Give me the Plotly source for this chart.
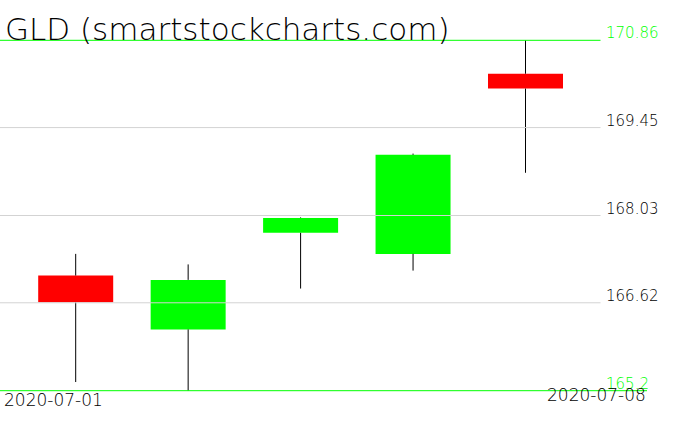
import plotly.graph_objs as go

# GLD daily candles
dates = ["2020-07-01", "2020-07-02", "2020-07-06", "2020-07-07", "2020-07-08"]
opens = [167.06, 166.19, 167.75, 167.41, 170.32]
highs = [167.41, 167.24, 168.00, 169.03, 170.86]
lows = [165.34, 165.20, 166.85, 167.14, 168.72]
closes = [166.63, 166.99, 167.99, 169.01, 170.08]

price_ticks = [165.2, 166.62, 168.03, 169.45, 170.86]
tick_labels = ["165.2", "166.62", "168.03", "169.45", "170.86"]

GREEN = "#00ff00"
RED = "#ff0000"
FONT = dict(family="DejaVu Sans", weight=200, color="black")

idx = list(range(len(dates)))

body_lo = [min(o, c) for o, c in zip(opens, closes)]
body_hi = [max(o, c) for o, c in zip(opens, closes)]
body_size = [h - l for l, h in zip(body_lo, body_hi)]
body_color = [GREEN if c >= o else RED for o, c in zip(opens, closes)]

# wicks: one segment below the body, one above (bars sit under scatter lines)
wick_x, wick_y = [], []
for i, lo, hi, bl, bh in zip(idx, lows, highs, body_lo, body_hi):
    wick_x += [i, i, None, i, i, None]
    wick_y += [lo, bl, None, bh, hi, None]

fig = go.Figure()

fig.add_trace(
    go.Bar(
        x=idx,
        y=body_size,
        base=body_lo,
        width=0.667,
        marker_color=body_color,
        marker_line_width=0,
        showlegend=False
    )
)

fig.add_trace(
    go.Scatter(
        x=wick_x,
        y=wick_y,
        mode="lines",
        line=dict(color="black", width=1),
        hoverinfo="skip",
        showlegend=False
    )
)

# horizontal price lines, drawn over the bodies
shapes = []
for k, p in enumerate(price_ticks):
    edge = k in (0, len(price_ticks) - 1)
    shapes.append(dict(
        type="line", layer="above",
        xref="paper", yref="y",
        x0=0, x1=(647 if k == 0 else 600.5) / 676,
        y0=p, y1=p,
        line=dict(color=GREEN if edge else "#d3d3d3", width=1)
    ))

annotations = []
for k, (p, lab) in enumerate(zip(price_ticks, tick_labels)):
    edge = k in (0, len(price_ticks) - 1)
    annotations.append(dict(
        text=lab, xref="paper", yref="y",
        x=604 / 676, y=p, xanchor="left", yanchor="bottom", yshift=-4,
        showarrow=False,
        font=dict(FONT, size=15, color=GREEN if edge else "black")
    ))

annotations.append(dict(
    text=dates[0], xref="paper", yref="paper",
    x=2 / 676, y=1 - 400 / 431, xanchor="left", yanchor="middle",
    showarrow=False, font=dict(FONT, size=17)
))
annotations.append(dict(
    text=dates[-1], xref="paper", yref="paper",
    x=648 / 676, y=1 - 395 / 431, xanchor="right", yanchor="middle",
    showarrow=False, font=dict(FONT, size=17)
))
annotations.append(dict(
    text="GLD (smartstockcharts.com)", xref="paper", yref="paper",
    x=3 / 676, y=1 - 28.5 / 431, xanchor="left", yanchor="middle",
    showarrow=False, font=dict(FONT, size=31)
))

px_per_unit = 350.4 / (price_ticks[-1] - price_ticks[0])
px_per_slot = 112.45

fig.update_layout(
    width=676,
    height=431,
    margin=dict(l=0, r=0, t=0, b=0),
    paper_bgcolor="white",
    plot_bgcolor="white",
    shapes=shapes,
    annotations=annotations,
    xaxis=dict(
        visible=False,
        range=[-75.7 / px_per_slot, (676 - 75.7) / px_per_slot]
    ),
    yaxis=dict(
        visible=False,
        range=[price_ticks[-1] - (431 - 40.3) / px_per_unit,
               price_ticks[-1] + 40.3 / px_per_unit]
    )
)

# drop the page's default body margin so the figure sits at the corner
fig.write_html(
    "out.html",
    config={"displayModeBar": False},
    post_script="document.body.style.margin='0';"
)
